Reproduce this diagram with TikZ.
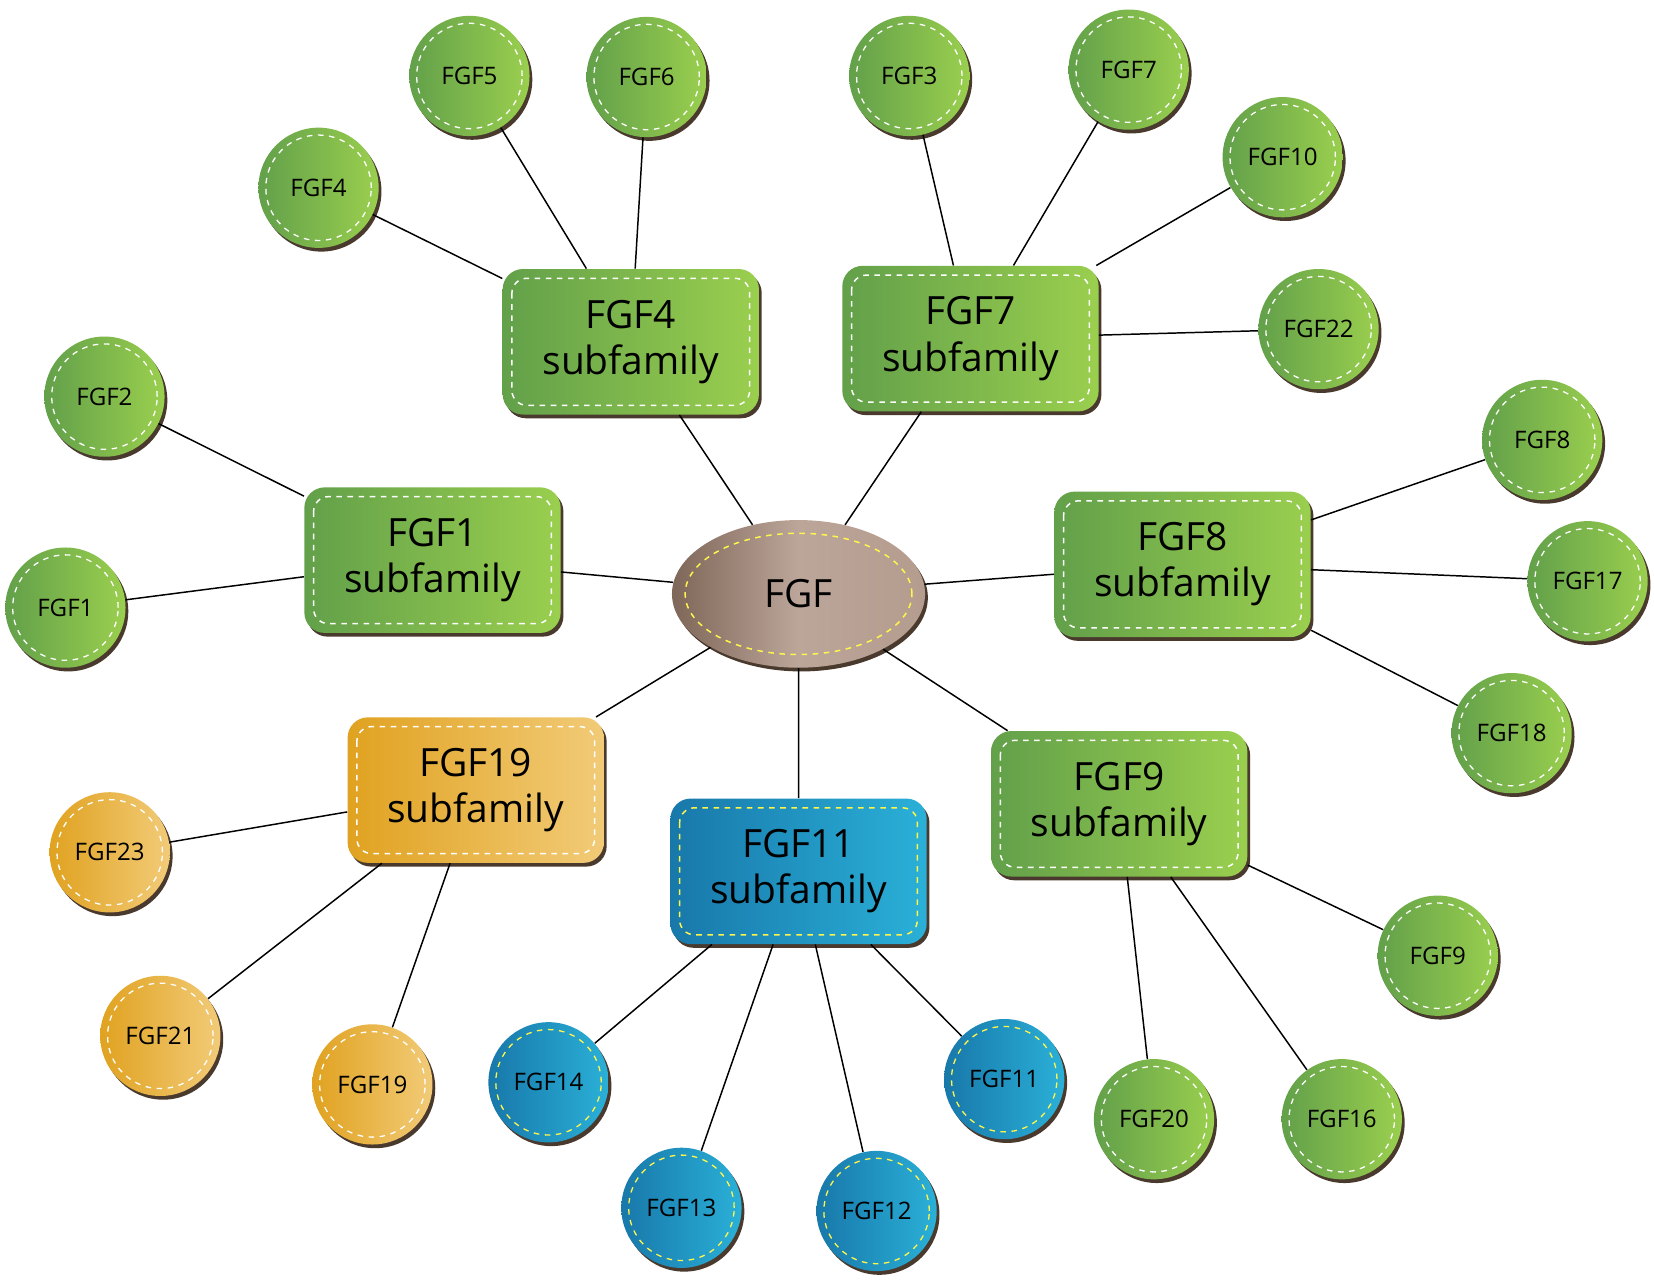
\documentclass[tikz,border=0pt]{standalone}
\usepackage{fontspec}
\setmainfont{Open Sans}
\usetikzlibrary{shadows,shapes.geometric}
\definecolor{gL}{HTML}{62A04A}\definecolor{gR}{HTML}{9ACF4E}
\definecolor{oL}{HTML}{E0A220}\definecolor{oR}{HTML}{F2CB78}
\definecolor{bL}{HTML}{1878AA}\definecolor{bR}{HTML}{2AB0D8}
\definecolor{brL}{HTML}{7E6658}\definecolor{brR}{HTML}{B49C8E}
\definecolor{sh}{HTML}{4A3A2E}
\tikzset{
 base/.style={draw=none,drop shadow={shadow xshift=1.5pt,shadow yshift=-2pt,fill=sh,opacity=1}},
 grn/.style={left color=gL,right color=gR},
 org/.style={left color=oL,right color=oR},
 blu/.style={left color=bL,right color=bR},
 sub/.style={base,rounded corners=11pt,minimum width=4.86cm,minimum height=2.76cm,align=center,font=\fontsize{21}{25}\selectfont,
   path picture={\draw[#1,dashed,line width=0.8pt,rounded corners=8pt] ([shift={(5pt,-5pt)}]path picture bounding box.north west) rectangle ([shift={(-5pt,5pt)}]path picture bounding box.south east);}},
 leaf/.style={base,circle,minimum size=2.28cm,inner sep=0pt,font=\fontsize{13}{15}\selectfont,
   path picture={\draw[#1,dashed,line width=0.7pt] (path picture bounding box.center) circle (1.0cm);}},
 ln/.style={line width=0.8pt,black}
}
\begin{document}
\begin{tikzpicture}[x={(0.02cm,0)},y={(0,-0.02cm)}]
\useasboundingbox (0,0) rectangle (1568,1215);
\node[base,ellipse,minimum width=4.8cm,minimum height=2.8cm,left color=brL,right color=brR,middle color=brR!90!white,font=\fontsize{21}{25}\selectfont,
  path picture={\draw[yellow!70!white,dashed,line width=0.8pt] (path picture bounding box.center) ellipse (2.15cm and 1.15cm);}] (F) at (757,563) {FGF};
\node[sub=white,grn] (s4) at (598,324) {FGF4\\subfamily};
\node[sub=white,grn] (s7) at (920,321) {FGF7\\subfamily};
\node[sub=white,grn] (s1) at (410,531) {FGF1\\subfamily};
\node[sub=white,grn] (s8) at (1121,535) {FGF8\\subfamily};
\node[sub=white,org] (s19) at (451,749) {FGF19\\subfamily};
\node[sub=yellow!70!white,blu] (s11) at (757,826) {FGF11\\subfamily};
\node[sub=white,grn] (s9) at (1061,762) {FGF9\\subfamily};
\foreach \n/\x/\y/\s/\c in {5/445/72/grn/white,6/613/73/grn/white,4/302/178/grn/white,3/862/72/grn/white,7/1070/66/grn/white,10/1216/149/grn/white,22/1250/312/grn/white,2/99/376/grn/white,1/62/576/grn/white,8/1462/417/grn/white,17/1505/551/grn/white,18/1433/695/grn/white,23/104/808/org/white,21/152/982/org/white,19/353/1028/org/white,14/520/1026/blu/yellow!70!white,13/646/1145/blu/yellow!70!white,12/831/1148/blu/yellow!70!white,11/952/1023/blu/yellow!70!white,9/1363/906/grn/white,20/1094/1061/grn/white,16/1272/1061/grn/white}
  \node[leaf=\c,\s] (c\n) at (\x,\y) {FGF\n};
\draw[ln] (F)--(s4) (F)--(s7) (F)--(s1) (F)--(s8) (F)--(s19) (F)--(s11) (F)--(s9);
\draw[ln] (s4)--(c4) (s4)--(c5) (s4)--(c6);
\draw[ln] (s7)--(c3) (s7)--(c7) (s7)--(c10) (s7)--(c22);
\draw[ln] (s1)--(c1) (s1)--(c2);
\draw[ln] (s8)--(c8) (s8)--(c17) (s8)--(c18);
\draw[ln] (s19)--(c23) (s19)--(c21) (s19)--(c19);
\draw[ln] (s11)--(c14) (s11)--(c13) (s11)--(c12) (s11)--(c11);
\draw[ln] (s9)--(c9) (s9)--(c20) (s9)--(c16);
\end{tikzpicture}
\end{document}
